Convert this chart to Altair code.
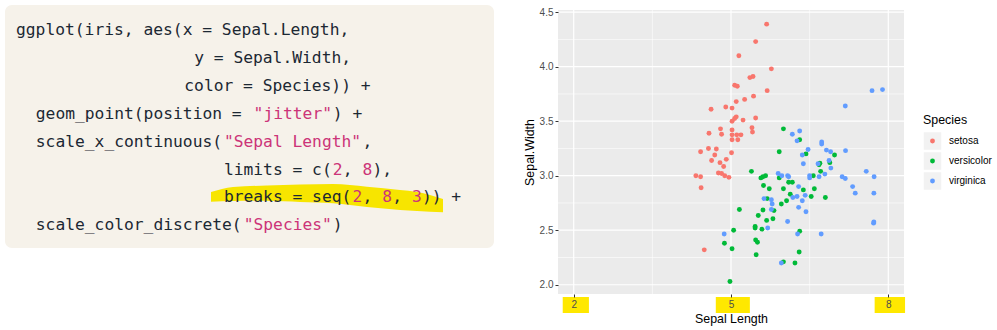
import re
import altair as alt
import pandas as pd

# ---------------- data ----------------
SPECIES = ["setosa", "versicolor", "virginica"]
COLORS = ["#F8766D", "#00BA38", "#619CFF"]

setosa_x = [5.68, 5.47, 5.15, 5.77, 5.36, 5.42, 5.07, 5.12, 5.69, 5.43, 5.26, 5.10,
            4.62, 4.90, 5.02, 5.10, 5.07, 5.47, 5.23, 5.02, 4.80, 4.82, 5.40, 5.41,
            5.02, 5.02, 4.58, 5.11, 5.19, 5.02, 5.13, 4.57, 4.72, 4.42, 5.01, 4.69,
            4.91, 4.63, 4.79, 4.86, 4.76, 4.82, 4.88, 4.96, 4.33, 4.42, 4.43, 4.49]
setosa_y = [4.39, 4.23, 4.10, 3.98, 3.90, 3.91, 3.83, 3.82, 3.78, 3.73, 3.70, 3.68,
            3.61, 3.63, 3.62, 3.54, 3.525, 3.53, 3.51, 3.50, 3.43, 3.38, 3.44, 3.40,
            3.42, 3.375, 3.39, 3.375, 3.375, 3.33, 3.33, 3.25, 3.245, 3.22, 3.21, 3.19,
            3.15, 3.14, 3.12, 3.085, 3.025, 3.02, 3.00, 2.985, 3.00, 2.99, 2.89, 2.32]

versicolor_x = [6.00, 6.31, 5.92, 6.43, 6.975, 6.695, 6.885, 6.68, 6.71, 5.39, 6.57, 5.66,
                5.61, 5.57, 5.92, 6.10, 6.17, 5.62, 5.73, 6.00, 6.59, 6.38, 6.13, 6.53,
                6.80, 5.69, 6.06, 5.96, 5.16, 5.61, 5.82, 5.52, 5.80, 5.68, 5.46, 5.46,
                5.59, 5.05, 6.31, 5.47, 5.505, 4.875, 5.02, 6.30, 5.48, 6.00, 6.22, 4.98]
versicolor_y = [3.43, 3.33, 3.22, 3.20, 3.19, 3.115, 3.12, 3.10, 3.04, 3.04, 3.00, 3.00,
                2.99, 2.98, 2.98, 2.94, 2.94, 2.91, 2.88, 2.88, 2.88, 2.87, 2.83, 2.81,
                2.80, 2.79, 2.77, 2.74, 2.69, 2.685, 2.68, 2.635, 2.605, 2.59, 2.535, 2.52,
                2.51, 2.50, 2.49, 2.41, 2.39, 2.38, 2.33, 2.30, 2.275, 2.21, 2.20, 2.03]

virginica_x = [7.89, 7.69, 7.18, 6.31, 6.17, 6.26, 6.73, 6.73, 6.47, 6.82, 6.90, 7.185,
               6.36, 6.87, 6.66, 6.38, 6.905, 7.58, 6.79, 5.90, 5.97, 6.08, 6.50, 6.50,
               6.68, 7.12, 7.18, 7.73, 6.10, 6.29, 7.32, 7.37, 7.725, 6.415, 6.26, 6.18,
               5.63, 5.77, 6.36, 5.785, 5.77, 6.29, 6.43, 6.08, 7.725, 7.72, 5.70, 6.27,
               6.72, 4.87, 5.96]
virginica_y = [3.79, 3.78, 3.64, 3.41, 3.38, 3.32, 3.31, 3.29, 3.24, 3.235, 3.22, 3.23,
               3.19, 3.14, 3.11, 3.11, 3.07, 3.04, 3.015, 3.02, 3.00, 3.00, 3.00, 2.98,
               2.99, 2.99, 2.975, 2.99, 2.99, 2.90, 2.90, 2.84, 2.84, 2.82, 2.81, 2.80,
               2.79, 2.78, 2.77, 2.74, 2.69, 2.71, 2.67, 2.58, 2.575, 2.565, 2.52, 2.465,
               2.465, 2.465, 2.20]

X_BREAKS = [2, 5, 8]
X_MINOR = [3.5, 6.5]
Y_BREAKS = [2.0, 2.5, 3.0, 3.5, 4.0, 4.5]
Y_MINOR = [2.25, 2.75, 3.25, 3.75, 4.25]
X_HIGHLIGHT_LO = [1.79, 4.71, 7.74]
X_HIGHLIGHT_HI = [2.29, 5.36, 8.32]

CODE = [
    'ggplot(iris, aes(x = Sepal.Length,',
    '                  y = Sepal.Width,',
    '                 color = Species)) +',
    '  geom_point(position = "jitter") +',
    '  scale_x_continuous("Sepal Length",',
    '                     limits = c(2, 8),',
    '                     breaks = seq(2, 8, 3)) +',
    '  scale_color_discrete("Species")',
]

# hand-drawn highlight under "breaks = seq(2, 8, 3))" (page pixels)
HL_X = [211, 233, 267, 300, 333, 367, 400, 417, 443]
HL_TOP = [192, 187, 185.5, 184.5, 184, 186.7, 190, 192, 199]
HL_BOT = [201.7, 201, 200.8, 202, 203.3, 207, 210, 211, 212.3]

# ---------------- layout constants ----------------
PL, PT = 558, 10           # plot area origin on the page
W, H = 346, 284
COL0, COLW = 16, 9.9       # code text: first column x, char advance
ROW0, ROWH = 30, 27.9      # code text: first row centre, line height

# ---------------- frames ----------------
pts = pd.DataFrame({
    "sepal_length": setosa_x + versicolor_x + virginica_x,
    "sepal_width": setosa_y + versicolor_y + virginica_y,
    "species": ["setosa"] * len(setosa_x) + ["versicolor"] * len(versicolor_x)
               + ["virginica"] * len(virginica_x),
})

segs = []
for r, line in enumerate(CODE):
    pos = 0
    pieces = []
    for m in re.finditer(r'"[^"]*"|\b\d+\b', line):
        pieces.append((pos, line[pos:m.start()], "code"))
        pieces.append((m.start(), m.group(0), "lit"))
        pos = m.end()
    pieces.append((pos, line[pos:], "code"))
    for start, part, kind in pieces:
        if part.strip():
            lead = len(part) - len(part.lstrip(" "))
            segs.append((r, start + lead, part.strip(" "), kind))
code_df = pd.DataFrame(segs, columns=["row", "col", "text", "kind"])
code_df["px"] = COL0 + code_df["col"] * COLW - PL
code_df["py"] = ROW0 + code_df["row"] * ROWH - PT

hl_df = pd.DataFrame({"x": [v - PL for v in HL_X],
                      "y": [v - PT for v in HL_TOP],
                      "y2": [v - PT for v in HL_BOT]})

leg_df = pd.DataFrame({"species": SPECIES, "i": range(len(SPECIES))})
leg_df["kx"] = 932.5 - PL
leg_df["ky"] = 141 + leg_df["i"] * 20 - PT
leg_df["tx"] = 949 - PL

xs = alt.Scale(domain=[1.7, 8.3], nice=False, zero=False)
ys = alt.Scale(domain=[1.915, 4.52], nice=False, zero=False)
# pixel scales (1 unit = 1 px, origin at plot top-left) for annotations
pxs = alt.Scale(domain=[0, W], nice=False, zero=False)
pys = alt.Scale(domain=[0, H], nice=False, zero=False, reverse=True)
cs = alt.Scale(domain=SPECIES, range=COLORS)
FONT = "Liberation Sans"


def PX(f):
    return alt.X(f, scale=pxs, axis=None)


def PY(f):
    return alt.Y(f, scale=pys, axis=None)


# ---------------- code panel ----------------
box = alt.Chart(pd.DataFrame({"a": [0]})).mark_rect(
    color="#f6f2ea", cornerRadius=7
).encode(x=alt.value(5 - PL), x2=alt.value(494 - PL),
         y=alt.value(5 - PT), y2=alt.value(248 - PT))

hl = alt.Chart(hl_df).mark_area(color="#f7e500", interpolate="monotone").encode(
    x=PX("x:Q"), y=PY("y:Q"), y2="y2:Q")

code_txt = alt.Chart(code_df).mark_text(
    align="left", baseline="middle", font="DejaVu Sans Mono", fontSize=16.3
).encode(
    x=PX("px:Q"), y=PY("py:Q"), text="text:N",
    color=alt.condition(alt.datum.kind == "lit", alt.value("#cc3478"), alt.value("#1c2833")),
)

# ---------------- scatter ----------------
def grid(vals, ch, width):
    df = pd.DataFrame({"v": vals})
    enc = alt.X("v:Q", scale=xs, axis=None) if ch == "x" else alt.Y("v:Q", scale=ys, axis=None)
    return alt.Chart(df).mark_rule(color="white", strokeWidth=width).encode(**{ch: enc})


xlab_hl = alt.Chart(pd.DataFrame({"lo": X_HIGHLIGHT_LO, "hi": X_HIGHLIGHT_HI})).mark_rect(
    color="#ffe800"
).encode(x=alt.X("lo:Q", scale=xs, axis=None), x2="hi:Q",
         y=alt.value(297 - PT), y2=alt.value(313 - PT))

axis_common = dict(grid=False, domain=False, tickColor="#333333", tickSize=3,
                   labelFont=FONT, labelFontSize=10, labelColor="#4d4d4d",
                   labelPadding=2, titleFont=FONT, titleFontSize=12.4,
                   titleFontWeight="normal", titleColor="black", titlePadding=3,
                   zindex=1)

points = alt.Chart(pts).mark_circle(size=24, opacity=1).encode(
    x=alt.X("sepal_length:Q", scale=xs,
            axis=alt.Axis(values=X_BREAKS, title="Sepal Length", **axis_common)),
    y=alt.Y("sepal_width:Q", scale=ys,
            axis=alt.Axis(values=Y_BREAKS, format=".1f", title="Sepal.Width", **axis_common)),
    color=alt.Color("species:N", scale=cs, legend=None),
)

# ---------------- legend ----------------
leg_title = alt.Chart(pd.DataFrame({"t": ["Species"]})).mark_text(
    align="left", baseline="middle", font=FONT, fontSize=12.4, color="black"
).encode(x=alt.value(923 - PL), y=alt.value(120 - PT), text="t:N")

leg_key = alt.Chart(leg_df).mark_square(size=17.5 * 17.5, color="#f2f2f2", opacity=1).encode(
    x=PX("kx:Q"), y=PY("ky:Q"))

leg_dot = alt.Chart(leg_df).mark_circle(size=24, opacity=1).encode(
    x=PX("kx:Q"), y=PY("ky:Q"),
    color=alt.Color("species:N", scale=cs, legend=None))

leg_lab = alt.Chart(leg_df).mark_text(
    align="left", baseline="middle", font=FONT, fontSize=10, color="black"
).encode(x=PX("tx:Q"), y=PY("ky:Q"), text="species:N")

chart = alt.layer(
    box, hl, code_txt,
    grid(X_MINOR, "x", 0.6), grid(Y_MINOR, "y", 0.6),
    grid(X_BREAKS, "x", 1.2), grid(Y_BREAKS, "y", 1.2),
    xlab_hl, points,
    leg_title, leg_key, leg_dot, leg_lab,
).resolve_scale(
    x="independent", y="independent"
).properties(
    width=W, height=H,
    autosize=alt.AutoSizeParams(type="none"),
    padding={"left": PL, "top": PT, "right": 997 - PL - W, "bottom": 330 - PT - H},
    background="white",
).configure_view(fill="#ebebeb", stroke=None)

chart.save("out.html", embed_options={"renderer": "svg", "actions": False})
